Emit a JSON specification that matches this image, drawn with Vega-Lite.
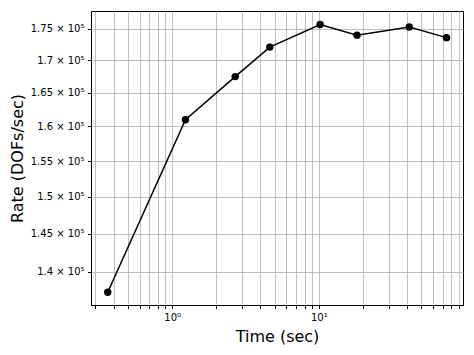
{
  "$schema": "https://vega.github.io/schema/vega-lite/v6.json",
  "width": 372,
  "height": 294,
  "autosize": {"type": "none"},
  "padding": {"left": 91, "top": 11, "right": 11, "bottom": 50},
  "background": "white",
  "config": {
    "font": "DejaVu Sans",
    "view": {"stroke": "black", "strokeWidth": 1},
    "axis": {
      "domainColor": "black",
      "tickColor": "black",
      "labelColor": "black",
      "titleColor": "black",
      "gridColor": "#b0b0b0",
      "gridWidth": 0.8,
      "labelFont": "DejaVu Sans",
      "titleFont": "DejaVu Sans",
      "labelFontSize": 10,
      "titleFontSize": 16,
      "titleFontWeight": "normal",
      "tickSize": 3.5,
      "labelPadding": 3.5
    }
  },
  "data": {
    "values": [
      {"time": 0.364, "rate": 137400},
      {"time": 1.233, "rate": 161000},
      {"time": 2.69, "rate": 167500},
      {"time": 4.63, "rate": 172100},
      {"time": 10.2, "rate": 175700},
      {"time": 18.2, "rate": 174000},
      {"time": 41.3, "rate": 175300},
      {"time": 74.1, "rate": 173600}
    ]
  },
  "encoding": {
    "x": {
      "field": "time",
      "type": "quantitative",
      "scale": {"type": "log", "domain": [0.28, 96], "nice": false},
      "axis": {
        "title": "Time (sec)",
        "titlePadding": 6,
        "values": [0.3, 0.4, 0.5, 0.6, 0.7, 0.8, 0.9, 1, 2, 3, 4, 5, 6, 7, 8, 9, 10, 20, 30, 40, 50, 60, 70, 80, 90],
        "labelExpr": "datum.value == 1 ? '10⁰' : (datum.value == 10 ? '10¹' : '')",
        "labelFlush": false,
        "labelOverlap": false,
        "grid": true
      }
    },
    "y": {
      "field": "rate",
      "type": "quantitative",
      "scale": {"type": "log", "domain": [135800, 177900], "nice": false},
      "axis": {
        "title": "Rate (DOFs/sec)",
        "titlePadding": 5,
        "values": [140000, 145000, 150000, 155000, 160000, 165000, 170000, 175000],
        "labelExpr": "format(datum.value / 100000, '~g') + ' × 10⁵'",
        "labelOverlap": false,
        "grid": true
      }
    }
  },
  "layer": [
    {"mark": {"type": "line", "color": "black", "strokeWidth": 1.5}},
    {"mark": {"type": "point", "filled": true, "color": "black", "opacity": 1, "size": 55}}
  ]
}
